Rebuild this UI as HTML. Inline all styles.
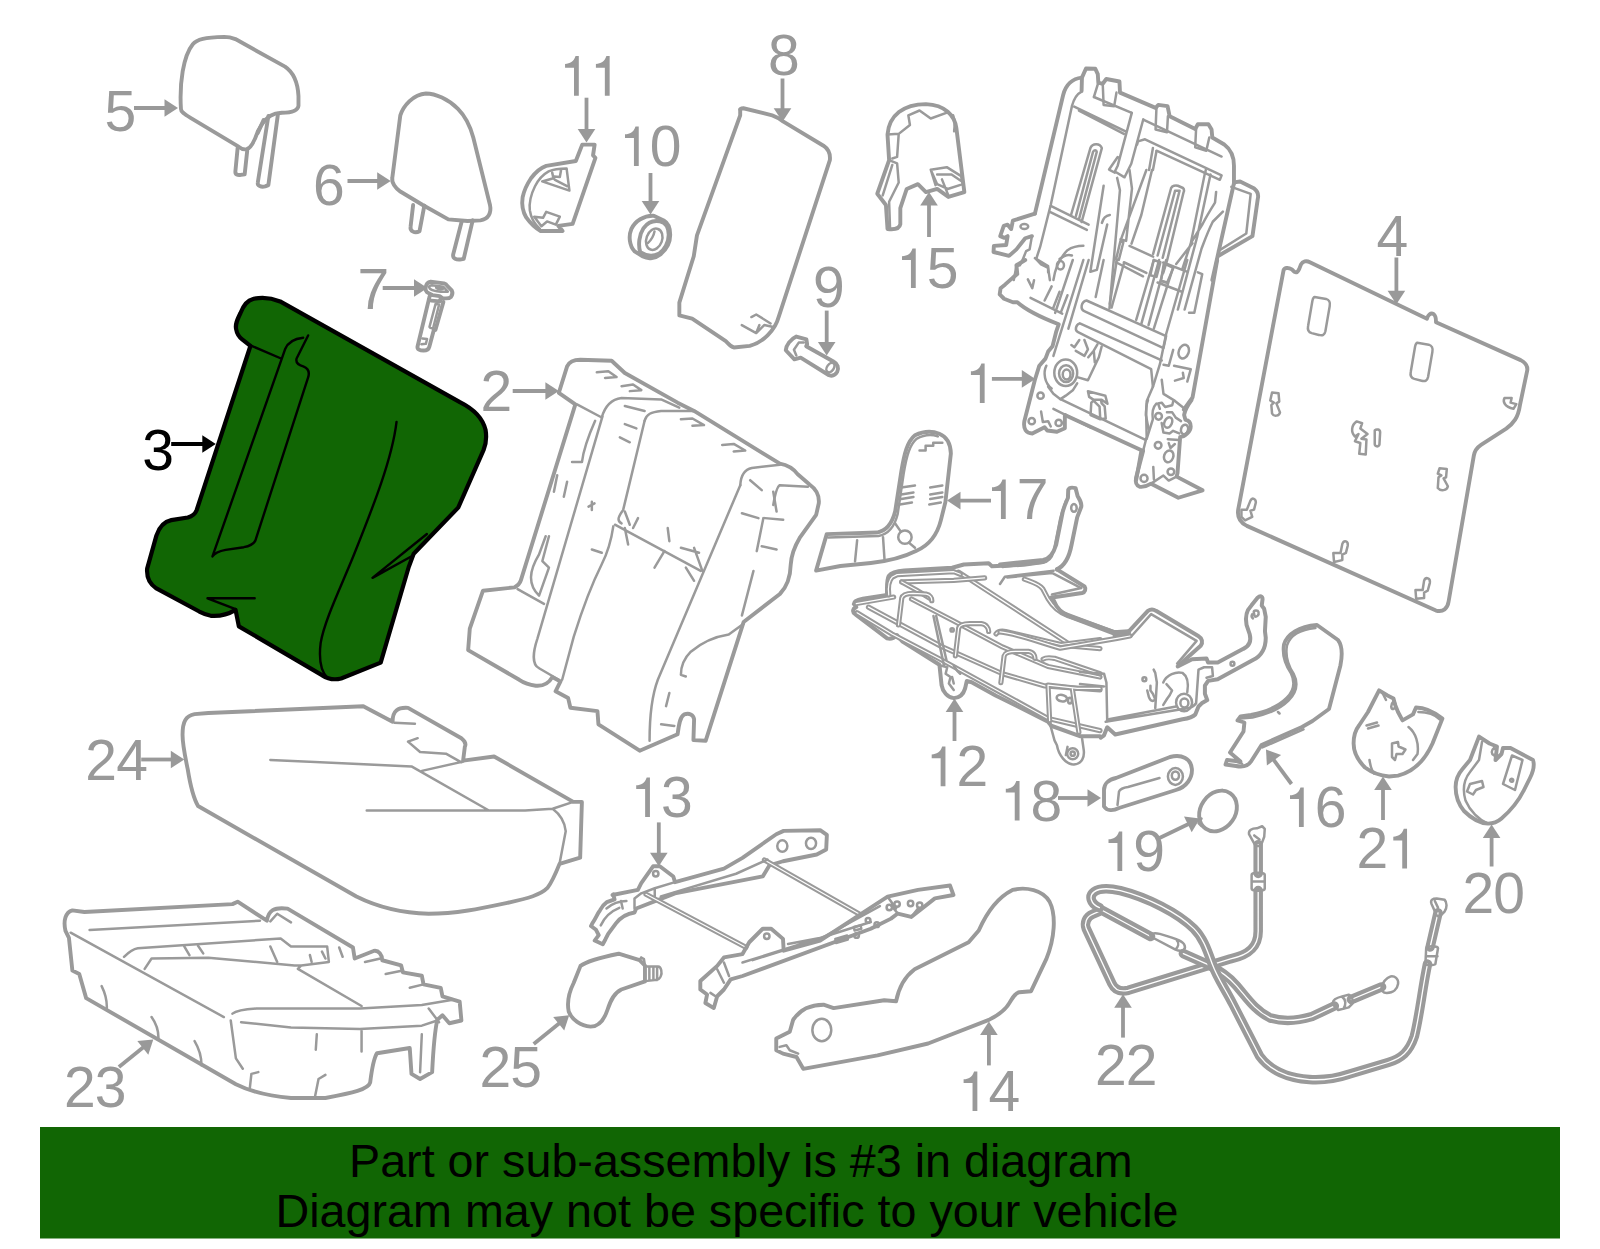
<!DOCTYPE html>
<html><head><meta charset="utf-8"><style>
html,body{margin:0;padding:0;background:#fff;width:1600px;height:1249px;overflow:hidden}
svg{display:block}
.g path,.g polyline,.g line,.g ellipse,.g circle,.g rect,.g polygon{fill:none;stroke:#9a9a9a;stroke-width:3.9;stroke-linejoin:round;stroke-linecap:round;vector-effect:non-scaling-stroke}
.g .t{stroke-width:2.5}
.g .f{fill:#fff}
.g .tb{stroke-width:5.2}
.g .tw{stroke:#fff;stroke-width:1.2}
.g .k{stroke-width:4}
.g .cb{stroke-width:9.5}
.g .cw{stroke:#fff;stroke-width:1.3}
.lb{font-family:"Liberation Sans",sans-serif;font-size:57px;fill:#999}
.ar{fill:#999;stroke:none}
.al{stroke:#999;stroke-width:3.4;fill:none}
.bk path{fill:none;stroke:#000;stroke-width:4.2;stroke-linejoin:round;stroke-linecap:round;vector-effect:non-scaling-stroke}
.bk .t{stroke-width:2.4}
.bk .fg{fill:#116604}
.bt{font-family:"Liberation Sans",sans-serif;font-size:46.7px;fill:#000}
</style></head><body>
<svg width="1600" height="1249" viewBox="0 0 1600 1249">
<rect x="40" y="1127" width="1520" height="111.5" fill="#116604"/>
<text class="bt" x="349" y="1177">Part or sub-assembly is #3 in diagram</text>
<text class="bt" x="275.5" y="1227">Diagram may not be specific to your vehicle</text>
<!-- 03_green.svg -->
<g class="bk" transform="translate(130 280) scale(0.329866)">
<path class="fg" d="M322,150 C318,135 325,120 335,100 C345,75 355,62 375,57 C400,52 430,55 455,65 L1000,370 C1040,390 1070,420 1078,455 C1082,480 1078,500 1072,515 L995,690 L860,830 L845,870 L760,1160 L640,1208 C620,1213 600,1210 582,1198 L330,1050 L320,1000 C300,1012 270,1020 245,1018 C230,1015 220,1010 210,1005 L80,935 C60,922 50,900 52,875 L80,775 C90,745 105,732 125,728 L175,720 C190,716 198,708 202,698 L365,200 L340,180 C330,172 324,162 322,150 Z"/>
<path class="t" d="M365,198 L458,238"/>
<path class="t" d="M540,168 L505,238 C502,250 510,258 525,262 C540,268 545,280 540,295 L380,790 C375,800 365,806 345,810 L290,818 C270,822 255,830 250,838 L470,210 C478,190 495,178 525,175"/>
<path class="t" d="M808,430 C795,540 740,680 680,830 C640,930 590,1030 578,1100 C572,1150 578,1185 598,1205"/>
<path class="t" d="M900,770 L735,903 L858,835"/>
<path class="t" d="M235,965 L378,965 M235,965 L320,998"/>
</g>

<!-- 10_r1.svg -->
<g class="g" transform="scale(0.320256)">
<!-- headrest 5 -->
<path d="M565,340 C560,260 572,175 602,138 C615,122 640,117 700,115 C715,115 725,118 735,122 L890,208 C915,225 930,260 932,300 L932,330 C930,345 915,352 880,352 L860,355 C840,360 820,380 805,410 C795,440 785,462 770,466 C760,468 750,462 745,458 L595,368 C575,356 565,350 565,340 Z"/>
<path d="M742,462 L735,535 C734,545 742,548 752,546 L764,544 L772,470"/>
<path d="M838,362 L805,570 C803,580 815,585 828,582 L838,578 L868,355"/>
<path d="M823,375 L805,415"/>
<!-- headrest 6 -->
<path d="M1225,555 L1250,360 C1260,330 1290,295 1330,292 C1360,292 1400,310 1430,340 C1455,365 1470,400 1478,430 L1530,640 C1535,665 1525,685 1500,688 L1460,690 L1400,685 L1320,640 L1250,598 C1235,588 1222,570 1225,555 Z"/>
<path d="M1290,640 L1282,708 C1280,722 1295,730 1310,722 L1325,642"/>
<path d="M1442,690 L1415,795 C1413,808 1425,812 1440,810 L1448,808 L1476,688"/>
</g>

<!-- 11_r2.svg -->
<g class="g" transform="translate(500 0) scale(0.320256)">
<!-- 8 -->
<path d="M750,345 C748,340 752,338 760,338 L850,360 C865,365 875,372 885,380 L1010,455 C1025,465 1032,480 1030,500 L870,990 C860,1030 820,1070 780,1080 L730,1085 C720,1082 715,1075 705,1065 L600,995 L560,985 L560,945 L605,800 L615,735 L750,360 Z"/>
<path class="t" d="M755,1015 L800,1040 L825,1015 L850,1020 M785,990 L800,982 L845,1010 M800,1040 L810,1015"/>
<!-- 15 -->
<path d="M1210,715 L1205,640 L1178,605 L1215,500 L1210,420 C1215,360 1260,325 1330,325 C1390,328 1420,360 1425,400 L1450,600 L1400,615 L1365,590 L1330,600 L1305,575 L1270,590 L1250,650 L1250,700 C1248,712 1235,718 1210,715 Z"/>
<path class="t" d="M1215,500 L1240,510 L1245,570 L1215,630 L1218,715 M1195,610 L1225,515"/>
<path class="t" d="M1210,420 L1245,418 L1280,390 L1275,360 L1310,345 L1345,370 L1400,350 M1415,360 C1420,375 1420,395 1418,410 M1245,418 L1240,490 L1225,495"/>
<path class="t" d="M1345,530 L1395,522 L1440,550 L1445,575 L1398,590 L1365,575 Z M1365,545 L1410,545 L1440,565 M1380,560 L1400,610 M1345,530 L1360,578"/>
</g>

<!-- 12_part2.svg -->
<g class="g" transform="translate(450 340) scale(0.329866)">
<path d="M330,160 L355,80 C362,65 375,60 395,60 L490,63 L530,100 L690,190 L740,215 L1000,375 C1030,380 1045,395 1055,408 L1090,438 C1110,452 1120,472 1118,495 L1110,530 L1060,600 C1045,625 1035,650 1033,680 C1032,720 1020,750 1000,770 L890,855 L775,1215 L738,1213 L740,1150 C738,1135 725,1130 710,1135 C700,1140 695,1155 690,1195 L575,1245 L450,1165 L447,1125 L365,1115 L358,1085 L320,1065 L335,1035 L310,1022 C300,1040 285,1050 260,1048 C245,1046 225,1040 210,1030 L55,940 L60,875 L100,760 L195,750 C205,745 212,738 215,728 L380,195 Z"/>
<path class="t" d="M385,195 L460,235"/>
<path class="t" d="M460,235 C470,200 490,180 520,176 L640,180 L695,205"/>
<path class="t" d="M462,232 L265,905 C250,950 250,985 270,995 L330,1030"/>
<path class="t" d="M440,245 C420,290 405,330 400,370 L370,370 M290,595 L270,650 C240,700 235,740 270,775 L300,690 L280,670 L300,595 M205,755 L285,800"/>
<path class="t" d="M590,245 C595,225 610,218 640,215 L740,215"/>
<path class="t" d="M590,245 L525,515 C510,535 505,548 520,556 M495,565 C490,600 480,640 460,680 C430,740 400,820 375,900 L340,1030"/>
<path class="t" d="M500,560 L760,700"/>
<path class="t" d="M880,440 C882,405 895,392 915,388 L1000,378"/>
<path class="t" d="M880,440 L630,1030 C615,1070 605,1140 605,1215"/>
<path class="t" d="M1085,445 L1000,440 C990,445 985,470 980,500 M950,540 L930,640 M920,700 L885,835"/>
<path class="t" d="M890,860 L845,893 C800,900 760,920 730,945 C710,965 700,990 700,1015 L715,1020"/>
<path class="t" d="M445,98 L480,95 L505,112 L470,115 M520,140 L555,135 L580,152 L545,155 M700,240 L735,238 L770,258 L735,260 M825,318 L860,315 L895,335 L860,338"/>
<path class="t" d="M325,410 L315,460 M355,430 L345,475 M420,505 L438,495 M430,490 L430,515"/>
<path class="t" d="M530,200 L590,215 M530,255 L565,268 M515,295 L545,310 M910,425 L945,455 M885,525 L935,540 M955,540 L1010,545 M945,625 L990,635"/>
<path class="t" d="M530,520 L545,560 M570,540 L555,570 M530,570 L540,620 M660,570 L665,610 M700,630 L755,645 M740,630 L765,700 M620,690 L650,640 M715,690 L740,730 M430,635 L460,645"/>
<path class="t" d="M640,1165 L680,1170 M665,1070 L655,1110 M980,460 L990,520"/>
</g>

<!-- 13_part10.svg -->
<g class="g" transform="translate(615 200) scale(0.05606)">
<path d="M670,280 C520,280 360,370 290,520 C240,640 255,820 350,915 L500,1010 C600,1060 720,1040 810,970 C910,890 985,760 985,620 C985,500 950,410 870,365 L690,280"/>
<path d="M450,930 C410,800 430,620 510,500 C590,390 700,360 800,380 C900,400 958,500 958,620 C958,760 880,900 780,960 C680,1010 560,1000 460,935"/>
<ellipse class="t" cx="700" cy="700" rx="140" ry="195" transform="rotate(20 700 700)"/>
<path class="t" d="M585,770 C640,720 690,640 705,560"/>
</g>

<!-- 14_part11.svg -->
<g class="g" transform="translate(515 135) scale(0.08004)">
<path d="M840,120 L995,120 L975,255 L1005,285 L720,1110 L540,1135 L595,1200 L320,1200 C250,1160 190,1100 140,1030 C100,960 80,880 95,780 C110,700 160,600 200,540 C260,460 320,410 390,385 L760,325 Z"/>
<path class="t" d="M310,1170 C250,1120 200,1040 185,940 C175,840 200,740 250,640 C290,560 340,500 420,455 C490,425 560,420 645,420 L680,695 L340,580 L480,540 L500,560 L650,640 M480,540 L465,470 M575,440 L560,525 L490,520"/>
<path class="t" d="M240,1020 L350,1035 L390,960 L560,1020 L510,1120 L400,1080 L330,1140 Z"/>
</g>

<!-- 15_bolt7.svg -->
<g class="g" transform="translate(405 275) scale(0.064033)">
<path d="M320,200 C330,140 360,110 400,105 L610,130 C630,135 650,150 660,170 L730,240 C745,270 740,310 720,340 C700,360 670,365 640,365 L590,365 L540,330 L430,315 C400,300 370,290 345,270 C325,250 318,225 320,200 Z"/>
<path class="t" d="M375,190 C380,170 400,160 420,160 L600,185 L670,260 L560,262 C480,255 420,240 390,215 Z"/>
<ellipse class="t" cx="540" cy="205" rx="55" ry="18" transform="rotate(10 540 205)"/>
<path d="M385,330 L372,385 M560,355 L545,410 M410,400 L550,412"/>
<path d="M372,385 L195,1120 C190,1160 230,1180 290,1180 C340,1180 370,1160 380,1120 L450,860 M600,420 L475,860 L450,860"/>
<path class="t" d="M478,452 L382,812 C387,830 417,832 440,828 L533,460 Z"/>
<path class="t" d="M270,990 L345,1000 L325,1075 L255,1080"/>
</g>

<!-- 16_pin9.svg -->
<g class="g" transform="translate(780 320) scale(0.048044)">
<path d="M120,630 C130,520 220,400 340,345 L550,405 L565,505 L545,545 L1120,870 C1200,910 1230,1000 1190,1080 C1150,1150 1080,1170 1020,1150 L430,785 L300,820 Z"/>
<path class="t" d="M340,740 L290,620 L390,470 L495,470"/>
<ellipse class="t" cx="1050" cy="990" rx="70" ry="110" transform="rotate(35 1050 990)"/>
</g>

<!-- 20_frame1.svg -->
<g class="g" transform="translate(990 60) scale(0.17614)">
<path d="M255,872 L415,200 C430,140 470,105 520,100"/>
<path d="M520,175 L522,100 L545,48 L598,50 L612,80 L615,128 L640,135 L660,108 L735,122 L738,185 L940,272 L955,255 L1008,262 L1020,320 L1165,392 L1180,365 L1240,365 L1258,395 L1262,440 L1330,480 C1370,510 1385,550 1385,600 L1385,700"/>
<path class="t" d="M590,210 L615,128 M640,135 L645,255 L705,262 L718,185 M945,272 L940,395 L1005,410 L1010,320 M1170,392 L1165,495 L1228,515 L1245,440"/>
<path class="t" d="M520,180 C490,195 475,225 465,262 L345,822 L285,1060 L262,1130 L290,1160 L330,1180 L340,1250"/>
<path class="t" d="M590,210 L805,300 M478,265 L770,405 M505,287 L760,420"/>
<path class="t" d="M870,338 L1315,548"/>
<path class="t" d="M805,300 L725,600 L709,633 L764,666 L802,589 M870,338 L802,589 M725,551 L676,622 L709,640 M925,500 L903,624 M945,518 L925,624 M1222,640 L1225,624"/>
<path class="t" d="M840,462 L880,450 L1315,655 L1305,680 L945,515 M840,462 L835,480"/>
<path class="t" d="M460,880 L570,500 C582,470 625,472 635,500 L520,920 M488,885 L585,522 C590,508 605,510 606,522 L505,905"/>
<path class="t" d="M345,828 L560,935 M340,862 L550,965"/>
<path d="M255,872 L130,912 L120,960 L100,935 L78,942 L58,1000 L82,1010 L100,1000 L92,1050 L22,1055 L20,1090 L108,1112 L150,1075 L200,1012 L238,1000"/>
<ellipse class="t" cx="195" cy="945" rx="22" ry="14"/>
<path class="t" d="M238,1000 L225,1075 L205,1085 L185,1135 L170,1165 L150,1170 L135,1249"/>
<path class="t" d="M255,1125 L330,1170 L330,1205 M395,1130 C420,1110 440,1100 465,1110"/>
<ellipse class="t" cx="400" cy="1165" rx="20" ry="24"/>
<path class="t" d="M360,1249 C370,1180 400,1120 440,1080 C470,1060 500,1055 530,1055"/>
<path d="M1385,695 L1420,690 L1500,730 C1520,745 1525,770 1520,790 L1490,1000 L1300,1110"/>
<path class="t" d="M1370,720 L1480,760 L1455,985 L1295,1085"/>
<path d="M1385,700 L1262,1249"/>
</g>
<g class="g" transform="translate(990 260) scale(0.17614)">
<path d="M200,0 L150,30 L155,80 L130,100 L85,140 L60,160 L55,195 L80,220 L130,240 L155,240 C200,280 300,330 390,365 L375,410 L355,490 L330,520 L315,560 L280,600 L255,680 L195,915 C188,960 205,985 240,985 L310,950 L325,968 L380,975 L425,955 L425,880"/>
<path d="M425,880 L860,1080 L830,1249"/>
<path class="t" d="M230,215 L410,305 M215,110 L240,160 L250,115 M310,230 L350,150 M360,270 L395,180 M405,290 L440,200"/>
<path class="t" d="M470,0 L370,300 M530,0 L360,545 M560,0 L445,390 M645,0 L600,210"/>
<path class="t" d="M720,0 L680,250 M760,20 L690,270"/>
<path class="t" d="M548,230 L1000,432 L985,500 L535,290 C512,280 515,238 548,230 Z"/>
<path class="t" d="M510,360 L975,570 M510,360 C485,368 480,400 500,410 L915,620 L925,720"/>
<path class="t" d="M930,0 L830,340 M960,0 L860,360 M1000,0 L900,370 M1040,40 L930,390 M1120,0 L1000,420 L965,590 L925,720 L890,800 L885,880 L900,960"/>
<path class="t" d="M1180,70 L1205,80 L1160,300 L1130,300"/>
<path d="M1290,0 L1150,780 L1100,850"/>
<ellipse class="t" cx="1100" cy="520" rx="28" ry="40" transform="rotate(20 1100 520)"/>
<path class="t" d="M985,595 L1015,600 L1040,510 M1045,600 L1140,620 L1120,690 M1050,685 L1100,670 L1095,640"/>
<path class="t" d="M975,680 L985,760 L1050,800 L1100,840"/>
<path class="t" d="M495,665 L556,683 L618,552 L634,491 M558,552 L589,515 L610,479 M589,515 L595,581 M462,483 L479,495 L507,454 M487,516 L536,544 L556,507 L536,454"/>
<ellipse class="t" cx="430" cy="640" rx="65" ry="75"/>
<ellipse class="t" cx="432" cy="645" rx="40" ry="48"/>
<ellipse class="t" cx="435" cy="650" rx="22" ry="28"/>
<path class="t" d="M320,600 C300,640 310,700 350,730 M330,720 L360,760 L400,790 L430,770 L470,740 L495,700"/>
<circle class="t" cx="287" cy="770" r="18"/>
<circle class="t" cx="237" cy="915" r="18"/>
<circle class="t" cx="390" cy="925" r="18"/>
<path class="t" d="M290,860 L300,920 L330,915 L345,945 M360,845 L570,950 M400,790 L880,1020"/>
<path class="t" d="M556,745 L655,771 L667,816 L634,794 L589,794 L563,777 Z M589,798 L575,810 L571,880 L626,904 L657,900 L651,831 L634,814 M589,800 L622,833 L626,904 M630,796 L634,814 L651,831"/>
</g>
<g class="g" transform="translate(1100 400) scale(0.088071)">
<path d="M490,575 L410,880 C400,930 410,970 450,985 C490,990 540,975 580,950 L890,1110 L1165,1025 L870,870 L880,830 L910,420 C960,420 1030,360 1030,300 C1030,250 1010,230 970,225 L955,170 C970,90 1010,40 1040,0"/>
<path class="t" d="M545,0 C525,50 520,100 525,200 L530,420 L490,575"/>
<path class="t" d="M580,950 L720,858 L780,915 L870,870 M605,760 L612,900 M770,445 L900,455 M780,490 L800,545 L850,500"/>
<path class="t" d="M640,40 C600,80 590,150 600,220 L530,440 M680,100 L660,40 L700,30 L740,80 L820,60 L830,20 M760,140 L820,140 L860,200 L920,240 M700,260 L720,370 L790,380 L830,350 L900,380"/>
<circle class="t" cx="500" cy="890" r="40"/>
<circle class="t" cx="805" cy="815" r="38"/>
<ellipse class="t" cx="780" cy="640" rx="52" ry="68" transform="rotate(20 780 640)"/>
<circle class="t" cx="660" cy="515" r="38"/>
<circle class="t" cx="665" cy="185" r="38"/>
<ellipse class="t" cx="775" cy="255" rx="42" ry="62" transform="rotate(25 775 255)"/>
<ellipse class="t" cx="960" cy="335" rx="40" ry="55" transform="rotate(15 960 335)"/>
</g>
<g class="g" transform="translate(1080 170) scale(0.1125)">
<path class="t" d="M440,675 L650,770 M740,822 L955,905 M390,820 L590,915 M720,985 L780,1005 M320,820 L560,945 M690,1000 L900,1080"/>
<path class="t" d="M810,160 L650,745 M920,200 L775,800 L740,915 M845,185 L690,760 M885,185 L735,780 M810,160 C820,140 850,135 870,140 L915,160 C925,170 925,190 920,200 M845,185 L885,185"/>
<path class="t" d="M655,800 L715,820 L680,950 L625,935 Z M745,830 L830,870 L775,1000 L720,985 Z"/>
<path class="t" d="M1000,650 L855,835 M1270,370 L1180,460 C1130,560 1100,650 1080,700 L930,1240 M1210,195 L1200,290 C1150,370 1110,440 1090,480 L985,650 L910,880 M1110,30 L985,650 M1160,40 L1040,600 L960,900 L870,1240"/>
<path class="t" d="M330,70 L355,180 L262,1230 M440,0 L462,165 L410,630 L360,615 M590,0 L365,615 M640,0 L545,400 L458,655 M360,630 L385,645 L345,800 L320,795 Z"/>
<path class="t" d="M210,140 L92,905 L150,888 L242,485 M265,400 C230,405 205,430 195,470"/>
</g>

<!-- 21_part4.svg -->
<g class="g" transform="translate(1200 180) scale(0.360288)">
<path d="M232,250 C235,243 245,242 255,248 L262,255 C268,258 272,255 275,248 L280,235 C285,225 295,223 305,228 L630,385 C632,375 640,368 648,372 C656,378 655,390 655,395 L890,500 C905,508 910,520 908,530 L888,625 C883,660 870,675 850,690 L780,735 C768,743 762,752 760,765 L690,1170 C687,1190 675,1200 655,1195 L130,960 C110,950 103,935 106,915 Z"/>
<path class="t" d="M318,325 L350,330 C358,332 362,340 360,350 L348,420 C346,430 340,433 330,430 L310,425 C300,422 298,415 300,405 L312,335 C314,327 316,325 318,325 Z"/>
<path class="t" d="M603,452 L635,457 C643,459 647,467 645,477 L633,547 C631,557 625,560 615,557 L595,552 C585,549 583,542 585,532 L597,462 C599,454 601,452 603,452 Z"/>
<path class="t" d="M200,590 L218,592 L220,615 L212,620 L222,645 C220,655 205,658 200,648 L198,625 L205,618 L195,612 Z"/>
<path class="t" d="M435,670 C420,680 418,700 430,712 L440,705 L430,725 L445,730 L442,760 L460,762 L462,720 L448,718 L465,705 L445,690 L450,675 Z"/>
<path class="t" d="M485,695 C490,690 500,692 500,700 L498,735 C495,742 485,740 485,733 Z"/>
<path class="t" d="M665,800 L685,802 L683,825 L676,828 L688,850 C686,862 668,865 660,855 L662,825 L670,820 L660,815 Z"/>
<path class="t" d="M845,605 C840,615 845,630 870,635 L878,622 L862,618 L865,605 Z"/>
<path class="t" d="M115,915 L130,915 L140,890 C145,880 155,885 155,895 L150,915 L140,918 L145,935 L125,945 L115,935 Z"/>
<path class="t" d="M370,1035 L390,1035 L395,1010 C400,998 412,1002 410,1015 L405,1035 L395,1040 L395,1055 L372,1060 Z"/>
<path class="t" d="M598,1138 L618,1138 L622,1112 C627,1100 640,1105 638,1118 L632,1140 L622,1145 L622,1160 L600,1162 Z"/>
</g>

<!-- 22_right.svg -->
<g class="g" transform="translate(1080 580) scale(0.3)">
<!-- 16 -->
<path d="M485,615 L490,600 L535,605 L500,575 L545,505 L548,475 L525,468 L535,455 L570,450 C620,440 660,425 690,395 C715,370 720,340 705,310 C685,280 675,250 680,215 C690,180 730,155 790,150 L860,200 C875,220 875,250 868,285 L830,430 L775,470 L740,490 L605,550 L570,605 C560,620 545,625 520,620 Z"/>
<path class="t" d="M535,462 L575,458 C625,448 665,432 695,402 C722,375 728,343 712,312 C692,282 684,252 690,218 C700,185 735,165 785,160"/>
<path class="t" d="M608,558 L745,498 M520,605 L540,612 M660,440 L665,445"/>
<!-- 21 -->
<path d="M997,368 L1025,385 L1045,395 L1050,415 L1060,440 L1075,468 L1110,448 L1120,425 C1150,425 1180,440 1208,462 L1175,545 C1150,600 1110,640 1060,652 L1030,655 C1000,652 970,640 950,625 C925,600 912,575 912,545 C912,520 918,500 930,485 L960,440 Z"/>
<path class="t" d="M1010,380 L1020,400 M1045,405 C1055,410 1055,425 1045,430 C1035,430 1035,415 1045,405 M1095,490 C1120,510 1130,545 1125,580 L1110,600 M1128,440 C1160,440 1185,450 1200,465 M965,600 C968,620 972,635 980,645 M955,485 L990,475 M960,495 L995,485"/>
<path class="t" d="M1040,545 L1060,540 L1062,555 L1085,565 L1075,580 L1055,580 L1050,600 L1040,590 Z"/>
<!-- 20 -->
<path d="M1330,522 L1365,545 L1390,555 L1385,600 L1405,580 L1410,560 L1435,560 L1510,600 C1515,615 1510,640 1500,660 L1480,700 C1465,730 1440,765 1405,795 C1390,808 1375,812 1360,812 C1330,810 1300,790 1280,770 C1262,748 1252,720 1252,690 C1252,665 1262,645 1275,630 L1300,600 Z"/>
<path class="t" d="M1340,540 L1330,600 L1300,640 C1280,665 1275,700 1285,735 C1300,770 1330,800 1360,812 M1380,560 C1390,565 1392,580 1380,585 C1370,580 1370,568 1380,560 M1440,585 L1475,600 L1450,700 L1410,680 Z M1435,665 C1440,660 1448,665 1442,672 C1436,674 1432,668 1435,665"/>
<path class="t" d="M1300,680 L1340,670 L1345,690 L1320,700 L1310,715 L1290,705 Z"/>
<!-- 18 -->
<path d="M80,700 C80,680 95,665 120,660 L300,590 C340,580 370,595 373,630 C375,660 355,690 320,700 L130,760 C110,770 90,770 80,755 Z"/>
<path class="t" d="M125,750 L130,705 C135,695 145,692 160,690 L265,660"/>
<ellipse class="t" cx="318" cy="655" rx="25" ry="28"/>
<ellipse class="t" cx="318" cy="652" rx="12" ry="14"/>
<!-- 19 -->
<ellipse cx="460" cy="770" rx="58" ry="72" transform="rotate(35 460 770)"/>
<path class="t" d="M455,705 L475,700 L490,705 M405,795 L395,810 L405,820"/>
<!-- 22 cable part (top) -->
</g>

<!-- 23_part12_17.svg -->
<g class="g" transform="translate(810 420) scale(0.304245)">
<!-- 17 -->
<path d="M55,375 L220,370 C250,365 270,340 280,300 L300,170 C310,110 320,70 345,50 C370,38 400,35 425,45 C450,55 462,75 463,110 L445,270 L430,330 C420,370 395,410 350,430 C300,455 250,465 200,470 L100,480 L20,495 Z"/>
<path class="t" d="M60,386 L225,381 C258,376 278,350 288,310 L308,175 C318,115 328,82 350,62 C372,50 400,47 420,54"/>
<path class="t" d="M360,100 L380,100 L380,85 L405,85 L405,75 L435,75 M300,222 L345,215 M300,245 L340,238 M295,278 L335,271 M300,260 L340,253 M395,222 L435,215 M395,245 L435,238 M392,278 L430,271 M395,260 L435,253"/>
<circle class="t" cx="312" cy="385" r="22"/>
<path class="t" d="M280,340 L298,366 M325,403 L345,420 M155,395 L148,465 M240,385 L245,460"/>
</g>

<!-- 24_part12.svg -->
<g class="g" transform="translate(840 560) scale(0.1625)">
<path class="k" d="M290,215 C288,170 288,120 300,98 C318,75 350,68 395,65 L690,48 L762,28 L915,20 L935,38 L1130,30 L1250,12"/>
<path class="k" d="M290,215 L140,238 C100,245 85,255 85,270 L100,290 L85,300 C78,312 80,325 95,335 L290,482 C310,488 335,478 350,462 L385,502 L612,645 L625,770 C632,810 660,845 700,850 C740,848 760,825 770,790 L780,745 L810,752 L960,835 L995,852 L1280,995 L1300,1020 L1480,1085 L1600,1085"/>
<path class="tb" d="M105,325 L320,455 L620,612 L1280,975 L1600,1050"/>
<path class="tw" d="M105,325 L320,455 L620,612 L1280,975 L1600,1050"/>
<path class="tb" d="M175,290 L620,530 L1000,700 L1260,775 L1600,800"/>
<path class="tw" d="M175,290 L620,530 L1000,700 L1260,775 L1600,800"/>
<path class="tb" d="M440,240 L700,375 L1000,535 L1280,655 L1600,720"/>
<path class="tw" d="M440,240 L700,375 L1000,535 L1280,655 L1600,720"/>
<path class="tb" d="M730,75 L1000,250 L1430,530 L1600,545"/>
<path class="tw" d="M730,75 L1000,250 L1430,530 L1600,545"/>
<path class="tb" d="M100,268 L330,228"/>
<path class="tw" d="M100,268 L330,228"/>
<path class="tb" d="M300,215 C295,170 300,125 322,105 L352,90 L700,72 L740,88"/>
<path class="tw" d="M300,215 C295,170 300,125 322,105 L352,90 L700,72 L740,88"/>
<path class="tb" d="M380,135 L700,125 L890,110"/>
<path class="tw" d="M380,135 L700,125 L890,110"/>
<path class="tb" d="M380,135 L470,185 L560,240"/>
<path class="tw" d="M380,135 L470,185 L560,240"/>
<path class="tb" d="M360,400 L380,235 C385,215 405,205 450,205 L530,210 C555,215 565,235 565,250"/>
<path class="tw" d="M360,400 L380,235 C385,215 405,205 450,205 L530,210 C555,215 565,235 565,250"/>
<path class="tb" d="M710,590 L730,420 C735,400 760,392 800,392 L870,392 C900,395 915,420 915,440"/>
<path class="tw" d="M710,590 L730,420 C735,400 760,392 800,392 L870,392 C900,395 915,420 915,440"/>
<path class="tb" d="M990,755 L1010,590 C1015,570 1040,562 1080,562 L1160,562 C1190,565 1200,590 1200,605"/>
<path class="tw" d="M990,755 L1010,590 C1015,570 1040,562 1080,562 L1160,562 C1190,565 1200,590 1200,605"/>
<path class="tb" d="M960,455 C970,440 990,435 1020,440 L1360,520 L1600,490"/>
<path class="tw" d="M960,455 C970,440 990,435 1020,440 L1360,520 L1600,490"/>
<path class="tb" d="M1250,610 C1265,600 1290,600 1320,605 L1600,700"/>
<path class="tw" d="M1250,610 C1265,600 1290,600 1320,605 L1600,700"/>
<path class="tb" d="M1290,990 L1280,770 L1460,790 L1600,790 M1430,795 L1470,1060"/>
<path class="tw" d="M1290,990 L1280,770 L1460,790 L1600,790 M1430,795 L1470,1060"/>
<path class="t" d="M575,345 L640,650 M592,345 L655,615 M620,650 L660,660 L650,700 L680,720 L670,760 L700,800 M700,650 L720,680 L740,700 M690,720 L700,760"/>
<ellipse class="t" cx="1365" cy="850" rx="32" ry="20" transform="rotate(10 1365 850)"/>
<ellipse class="t" cx="1415" cy="865" rx="12" ry="18"/>
<circle class="t" cx="690" cy="430" r="10"/>
<path class="t" d="M1290,1000 L1320,1110 L1335,1140 C1345,1200 1390,1260 1440,1258 C1490,1255 1505,1210 1500,1170 L1490,1100 M1400,1150 L1390,1200"/>
<circle class="t" cx="1432" cy="1192" r="34"/>
<circle class="t" cx="1432" cy="1192" r="13"/>
</g>
<g class="g" transform="translate(1000 480) scale(0.1625)">
<path class="k" d="M0,520 L265,492 C300,485 330,450 345,400 L385,200 C395,160 410,130 418,110 L420,60 C425,48 445,45 465,50 L478,100 C490,120 505,140 500,165 L475,230 L440,400 C425,480 395,530 350,550"/>
<path class="t" d="M15,535 L260,510 C300,505 320,480 330,440 L370,240 C380,200 395,160 405,130"/>
<ellipse class="t" cx="455" cy="172" rx="17" ry="24"/>
<path class="k" d="M350,550 L520,655 C530,670 525,690 505,695 L310,725"/>
<path class="t" d="M45,600 L320,572 L500,665 L320,705 M0,640 L30,595 L330,558"/>
<path class="tb" d="M150,610 C200,630 240,640 262,668 L295,730 C325,780 360,815 420,835 L700,940 L790,935"/>
<path class="tw" d="M150,610 C200,630 240,640 262,668 L295,730 C325,780 360,815 420,835 L700,940 L790,935"/>
<path class="k" d="M320,735 L330,740 C345,780 375,820 430,840 L700,935 L790,935 L910,805 C925,795 945,795 960,805 L1220,960 C1245,975 1250,1000 1235,1020 L1100,1140"/>
<path class="t" d="M810,960 L930,825 L1210,990 L1090,1130 M700,960 L800,952"/>
<path class="tb" d="M0,935 C100,945 200,985 370,1035 L720,975 L800,960"/>
<path class="tw" d="M0,935 C100,945 200,985 370,1035 L720,975 L800,960"/>
</g>
<g class="g" transform="translate(1080 580) scale(0.16013)">
<path class="k" d="M610,540 L700,495 L790,490 L800,515 L860,515 L1020,430 C1060,410 1070,380 1060,340 L1040,280 C1030,230 1040,190 1070,160 L1110,110 C1125,95 1140,100 1140,120 L1135,160 L1150,180 L1160,230 L1155,320 L1160,360 C1160,420 1140,470 1080,500 L860,620 L800,630 L780,660 L780,710 L795,750 L760,770 L740,790 L720,840 C700,860 670,865 640,870 L220,965 L170,920 L150,970 L130,985"/>
<path class="t" d="M160,885 L680,800 C700,795 715,785 725,770 L740,560 L775,545 L825,545 L830,600 L790,610 M180,870 L600,790"/>
<ellipse class="t" cx="650" cy="765" rx="50" ry="55"/>
<ellipse class="t" cx="652" cy="768" rx="25" ry="28"/>
<path class="t" d="M520,640 C540,590 600,570 640,580 C670,600 680,640 670,700 M540,650 L575,690 L560,720 L545,740 L520,780 M420,690 L430,730 C440,760 460,760 470,745 L455,710 L440,690 L440,660"/>
<circle class="t" cx="402" cy="620" r="12"/>
<circle class="t" cx="952" cy="523" r="12"/>
<path class="t" d="M1085,200 C1085,190 1110,185 1115,200 C1120,220 1100,235 1090,225 Z M1075,215 C1070,225 1072,235 1080,240"/>
<path class="t" d="M0,575 L150,585 L165,640 L170,880 M0,650 L150,665 M460,560 L470,580 L480,640 L470,800"/>
</g>

<!-- 30_bottomleft.svg -->
<g class="g" transform="translate(50 690) scale(0.344269)">
<!-- 24 -->
<path d="M385,130 C385,90 395,75 420,70 L460,67 L910,47 L995,92 C995,60 1010,50 1040,52 L1195,140 C1205,148 1210,155 1205,165 L1200,205 L1290,193 L1520,325 L1545,325 L1540,487 L1480,505 C1470,530 1460,555 1445,575 C1425,595 1390,605 1330,618 C1250,635 1180,650 1100,650 C1020,648 950,630 890,600 L430,337 C420,320 408,280 400,230 C392,190 385,160 385,130 Z"/>
<path class="t" d="M640,203 L1050,222 L1275,350 M920,350 L1380,350 L1460,345 L1520,325 M1460,345 C1480,360 1495,380 1498,410 L1480,505 M1080,235 L1200,208 M1000,95 L1060,98 M1040,150 L1075,180 L1150,185 L1195,210 M1040,150 L1068,140"/>
<!-- 23 -->
<path d="M45,700 C38,670 45,645 65,640 L100,645 L530,622 L545,615 L630,670 C635,640 650,630 690,635 L880,748 L885,780 L940,758 C955,755 965,770 965,785 L1020,800 L1025,820 L1080,830 L1085,855 L1135,865 L1140,890 L1190,905 L1195,960 L1160,968 L1140,945 L1125,958 C1120,980 1115,1010 1110,1110 L1075,1130 L1050,1115 L1045,1040 L950,1055 C940,1070 935,1100 930,1140 C925,1160 880,1170 800,1185 L700,1185 C640,1180 590,1170 540,1145 L105,895 L85,825 L65,815 L55,720 Z"/>
<path class="t" d="M115,697 L610,670 M60,705 L505,950 M215,775 C230,760 240,752 255,750 L670,722 L700,745 L790,745 L805,745 L810,790 L730,800 L720,810 L905,918 M275,810 L295,780 L460,778 L710,800 L730,800 M640,672 L660,650 L700,675"/>
<path class="t" d="M530,940 C540,932 555,928 600,925 L900,925 L1080,915 L1170,900 M555,965 L700,980 L900,985 L1080,975 L1125,960 M525,960 L540,1070 L560,1100 M580,1160 L585,1115 L605,1110 M770,1180 L780,1130 L800,1118 M775,1000 L772,1045 M905,990 L905,1050 M1080,1000 L1075,1110 M150,860 C160,880 166,900 165,925 M295,950 C308,968 315,990 315,1010 M420,1020 C432,1040 440,1065 440,1090 M915,790 L960,780 M975,825 L1025,815 M1045,865 L1085,855 M1100,925 L1130,965 M640,745 L660,790 M840,748 L850,775 M390,745 L405,770 M430,743 L445,765 M755,770 L760,790 M790,760 L800,780"/>
</g>
<g class="g" transform="translate(540 760) scale(0.3375)">
<!-- 13 back rail -->
<path d="M215,400 L290,385 L300,365 L335,315 L355,315 L395,345 L400,362 L545,322 L600,290 L700,220 L722,210 L830,208 L850,222 L848,265 L820,280 L720,300 L680,312 L660,345 L400,395 L285,440 L280,452 C260,455 240,465 225,484 L202,515 L194,531 L186,546 L162,535 L174,519 L166,503 L151,492 L155,484 C165,470 170,455 178,445 C185,432 195,423 198,421 L221,413 L217,398 Z"/>
<path class="t" d="M340,380 L400,362 M300,395 L340,380 L340,420 M280,440 L280,410 L300,395 M197,440 C215,425 240,418 256,418 M180,490 C190,468 210,448 235,438 M240,418 L245,440"/>
<ellipse class="t" cx="718" cy="255" rx="15" ry="17"/>
<ellipse class="t" cx="803" cy="247" rx="15" ry="17"/>
<circle class="t" cx="343" cy="337" r="8"/>
<!-- rods -->
<path class="tb" d="M314,398 L610,555 M665,296 L946,456"/>
<path class="tw" d="M314,398 L610,555 M665,296 L946,456"/>
<path class="t" d="M358,404 L581,337 L674,295 M630,593 L830,530 L1007,433"/>
<!-- 13 front rail -->
<path d="M475,655 L525,610 L545,585 L600,575 L620,540 L660,500 L685,500 L720,530 L722,565 L830,535 L1030,405 L1120,385 L1215,372 L1225,400 L1170,410 L1100,465 L1060,455 L1040,470 L980,500 L600,640 L565,650 L545,680 L525,700 L515,735 L490,720 L495,695 L475,680 Z"/>
<path class="t" d="M735,545 L825,528 M600,600 L980,480 M1030,405 L1055,440 M1100,465 L1120,440 M1060,455 L1040,430 M545,600 L560,640 M525,620 L545,660 M505,690 L520,700"/>
<circle class="t" cx="672" cy="522" r="8"/>
<circle class="t" cx="1035" cy="437" r="8"/>
<circle class="t" cx="1058" cy="427" r="8"/>
<circle class="t" cx="1098" cy="425" r="8"/>
<circle class="t" cx="1125" cy="430" r="8"/>
<circle class="t" cx="972" cy="475" r="7"/>
<circle class="t" cx="998" cy="488" r="7"/>
<circle class="t" cx="938" cy="520" r="7"/>
<path class="t" d="M875,530 L910,520 L912,532 L877,542 Z M930,495 L950,490 L952,500 L932,505 Z"/>
<!-- 14 -->
<path d="M700,825 L740,805 L750,770 C770,740 800,725 840,725 L870,735 L1020,712 L1055,715 C1060,690 1070,650 1110,620 L1270,540 L1300,505 C1320,460 1350,410 1400,385 C1440,375 1490,385 1510,420 C1530,460 1525,530 1500,590 L1455,685 L1420,688 C1405,692 1400,705 1392,718 C1380,740 1360,755 1330,770 L1150,840 L1000,875 L780,915 L760,880 L720,870 L700,860 Z"/>
<ellipse class="t" cx="835" cy="800" rx="28" ry="33"/>
<path class="t" d="M710,850 L730,845 L740,860 L765,870"/>
<!-- 25 -->
<path d="M85,745 C80,720 85,690 100,660 L120,610 C140,595 180,585 233,574 L295,593 L311,609 L311,656 L241,680 C220,690 210,710 200,740 C190,770 175,790 150,790 C120,788 95,770 85,745 Z"/>
<path class="t" d="M311,612 L350,612 C360,612 362,632 358,640 C355,650 350,652 340,652 L311,655 M324,612 L324,652 M336,612 L336,652 M347,612 L347,652 M295,593 L300,585 L308,590 L311,609"/>
</g>

<!-- 31_part22.svg -->
<g class="g" transform="translate(1060 800) scale(0.2625)">
<path class="cb" d="M755,170 L755,280 M755,345 L755,500 C755,560 720,590 650,605 L260,725 C230,732 210,725 198,700 L100,490 C92,470 100,445 125,435 L160,420 L345,520"/>
<path class="cw" d="M755,170 L755,280 M755,345 L755,500 C755,560 720,590 650,605 L260,725 C230,732 210,725 198,700 L100,490 C92,470 100,445 125,435 L160,420 L345,520"/>
<path class="cb" d="M470,585 L560,625 C600,645 640,670 670,705 C710,750 740,800 800,830 C850,845 910,840 960,825 L1045,785 M1110,760 L1225,712"/>
<path class="cw" d="M470,585 L560,625 C600,645 640,670 670,705 C710,750 740,800 800,830 C850,845 910,840 960,825 L1045,785 M1110,760 L1225,712"/>
<path class="cb" d="M150,410 C115,395 110,365 130,350 C150,335 185,335 230,345 C330,370 450,430 510,490 C545,525 560,570 580,625 C600,680 630,720 660,780 L760,975 C800,1030 870,1060 950,1065 C1000,1068 1050,1062 1100,1045 L1250,1000 C1300,985 1330,960 1350,900 C1370,820 1380,720 1400,625 M1410,560 L1440,430"/>
<path class="cw" d="M150,410 C115,395 110,365 130,350 C150,335 185,335 230,345 C330,370 450,430 510,490 C545,525 560,570 580,625 C600,680 630,720 660,780 L760,975 C800,1030 870,1060 950,1065 C1000,1068 1050,1062 1100,1045 L1250,1000 C1300,985 1330,960 1350,900 C1370,820 1380,720 1400,625 M1410,560 L1440,430"/>
<path class="t" d="M345,520 L440,570 C465,580 480,570 475,555 C470,540 455,532 380,510 C355,505 340,510 345,520 Z M440,570 C450,560 455,545 445,535"/>
<path class="t" d="M730,285 C730,275 780,275 780,285 L780,338 C780,348 730,348 730,338 Z M730,310 L780,310"/>
<path class="t" d="M745,175 L720,130 C718,115 730,108 750,108 L770,100 L780,110 L778,140 L765,175 Z M740,135 L760,150"/>
<path class="t" d="M1045,785 L1040,770 C1040,760 1060,752 1075,748 L1100,742 C1110,745 1118,760 1115,775 L1100,790 L1060,800 Z M1075,750 C1090,760 1090,780 1080,795"/>
<path class="t" d="M1225,712 C1230,695 1240,680 1260,672 C1275,670 1290,680 1288,700 C1285,720 1270,735 1245,735 C1230,735 1222,725 1225,712 Z"/>
<path class="t" d="M1395,565 C1395,555 1440,555 1440,565 L1430,625 C1428,630 1390,630 1392,625 Z M1393,595 L1438,595"/>
<path class="t" d="M1435,440 L1415,395 C1410,380 1420,375 1435,375 L1465,380 C1475,390 1475,410 1465,425 L1445,445 Z M1428,385 L1440,410"/>
</g>

<!-- 90_labels.svg -->
<text class="lb" x="104.60" y="131.20" fill="#999" style="fill:#999">5</text>
<text class="lb" x="312.90" y="204.80" fill="#999" style="fill:#999">6</text>
<text class="lb" x="357.40" y="309.00" fill="#999" style="fill:#999">7</text>
<text class="lb" x="142.20" y="469.50" fill="#000" style="fill:#000">3</text>
<path d="M13.74,0 L8.94,0 L8.94,-28 L0,-28 L0,-31.7 C5,-32.3 8.5,-33.5 10.5,-39.6 L13.74,-39.6 Z" transform="translate(565.06 95.70)" fill="#999"/>
<path d="M13.74,0 L8.94,0 L8.94,-28 L0,-28 L0,-31.7 C5,-32.3 8.5,-33.5 10.5,-39.6 L13.74,-39.6 Z" transform="translate(595.91 95.70)" fill="#999"/>
<path d="M13.74,0 L8.94,0 L8.94,-28 L0,-28 L0,-31.7 C5,-32.3 8.5,-33.5 10.5,-39.6 L13.74,-39.6 Z" transform="translate(625.00 166.00)" fill="#999"/>
<text class="lb" x="649.80" y="166.00" fill="#999" style="fill:#999">0</text>
<text class="lb" x="768.00" y="74.80" fill="#999" style="fill:#999">8</text>
<text class="lb" x="812.90" y="307.20" fill="#999" style="fill:#999">9</text>
<path d="M13.74,0 L8.94,0 L8.94,-28 L0,-28 L0,-31.7 C5,-32.3 8.5,-33.5 10.5,-39.6 L13.74,-39.6 Z" transform="translate(902.00 288.00)" fill="#999"/>
<text class="lb" x="926.80" y="288.00" fill="#999" style="fill:#999">5</text>
<text class="lb" x="480.40" y="411.00" fill="#999" style="fill:#999">2</text>
<text class="lb" x="1376.40" y="255.70" fill="#999" style="fill:#999">4</text>
<path d="M13.74,0 L8.94,0 L8.94,-28 L0,-28 L0,-31.7 C5,-32.3 8.5,-33.5 10.5,-39.6 L13.74,-39.6 Z" transform="translate(970.90 403.00)" fill="#999"/>
<path d="M13.74,0 L8.94,0 L8.94,-28 L0,-28 L0,-31.7 C5,-32.3 8.5,-33.5 10.5,-39.6 L13.74,-39.6 Z" transform="translate(1290.00 827.00)" fill="#999"/>
<text class="lb" x="1314.80" y="827.00" fill="#999" style="fill:#999">6</text>
<text class="lb" x="1356.40" y="868.40" fill="#999" style="fill:#999">2</text>
<path d="M13.74,0 L8.94,0 L8.94,-28 L0,-28 L0,-31.7 C5,-32.3 8.5,-33.5 10.5,-39.6 L13.74,-39.6 Z" transform="translate(1393.30 868.40)" fill="#999"/>
<text class="lb" x="1462.40" y="912.60" fill="#999" style="fill:#999">2</text>
<text class="lb" x="1493.25" y="912.60" fill="#999" style="fill:#999">0</text>
<path d="M13.74,0 L8.94,0 L8.94,-28 L0,-28 L0,-31.7 C5,-32.3 8.5,-33.5 10.5,-39.6 L13.74,-39.6 Z" transform="translate(1108.50 871.00)" fill="#999"/>
<text class="lb" x="1133.30" y="871.00" fill="#999" style="fill:#999">9</text>
<path d="M13.74,0 L8.94,0 L8.94,-28 L0,-28 L0,-31.7 C5,-32.3 8.5,-33.5 10.5,-39.6 L13.74,-39.6 Z" transform="translate(992.00 519.00)" fill="#999"/>
<text class="lb" x="1016.80" y="519.00" fill="#999" style="fill:#999">7</text>
<path d="M13.74,0 L8.94,0 L8.94,-28 L0,-28 L0,-31.7 C5,-32.3 8.5,-33.5 10.5,-39.6 L13.74,-39.6 Z" transform="translate(931.70 786.20)" fill="#999"/>
<text class="lb" x="956.50" y="786.20" fill="#999" style="fill:#999">2</text>
<path d="M13.74,0 L8.94,0 L8.94,-28 L0,-28 L0,-31.7 C5,-32.3 8.5,-33.5 10.5,-39.6 L13.74,-39.6 Z" transform="translate(1005.80 820.50)" fill="#999"/>
<text class="lb" x="1030.60" y="820.50" fill="#999" style="fill:#999">8</text>
<text class="lb" x="85.30" y="780.00" fill="#999" style="fill:#999">2</text>
<text class="lb" x="116.15" y="780.00" fill="#999" style="fill:#999">4</text>
<text class="lb" x="63.90" y="1107.00" fill="#999" style="fill:#999">2</text>
<text class="lb" x="94.75" y="1107.00" fill="#999" style="fill:#999">3</text>
<text class="lb" x="479.40" y="1087.00" fill="#999" style="fill:#999">2</text>
<text class="lb" x="510.25" y="1087.00" fill="#999" style="fill:#999">5</text>
<path d="M13.74,0 L8.94,0 L8.94,-28 L0,-28 L0,-31.7 C5,-32.3 8.5,-33.5 10.5,-39.6 L13.74,-39.6 Z" transform="translate(636.20 817.00)" fill="#999"/>
<text class="lb" x="661.00" y="817.00" fill="#999" style="fill:#999">3</text>
<path d="M13.74,0 L8.94,0 L8.94,-28 L0,-28 L0,-31.7 C5,-32.3 8.5,-33.5 10.5,-39.6 L13.74,-39.6 Z" transform="translate(963.60 1111.00)" fill="#999"/>
<text class="lb" x="988.40" y="1111.00" fill="#999" style="fill:#999">4</text>
<text class="lb" x="1094.90" y="1084.50" fill="#999" style="fill:#999">2</text>
<text class="lb" x="1125.75" y="1084.50" fill="#999" style="fill:#999">2</text>
<line x1="134.0" y1="108.0" x2="166.5" y2="108.0" stroke="#999" stroke-width="3.8"/>
<polygon points="178.0,108.0 164.5,116.8 164.5,99.2" fill="#999"/>
<line x1="347.5" y1="181.0" x2="379.2" y2="181.0" stroke="#999" stroke-width="3.8"/>
<polygon points="390.7,181.0 377.2,189.8 377.2,172.2" fill="#999"/>
<line x1="382.7" y1="288.0" x2="416.0" y2="288.0" stroke="#999" stroke-width="3.8"/>
<polygon points="427.5,288.0 414.0,296.8 414.0,279.2" fill="#999"/>
<line x1="171.2" y1="444.0" x2="204.3" y2="444.0" stroke="#000" stroke-width="3.8"/>
<polygon points="215.8,444.0 202.3,452.8 202.3,435.2" fill="#000"/>
<line x1="586.5" y1="97.7" x2="586.5" y2="131.0" stroke="#999" stroke-width="3.8"/>
<polygon points="586.5,142.5 577.7,129.0 595.3,129.0" fill="#999"/>
<line x1="650.5" y1="173.0" x2="650.5" y2="203.1" stroke="#999" stroke-width="3.8"/>
<polygon points="650.5,214.6 641.7,201.1 659.3,201.1" fill="#999"/>
<line x1="782.5" y1="78.5" x2="782.5" y2="110.2" stroke="#999" stroke-width="3.8"/>
<polygon points="782.5,121.7 773.7,108.2 791.3,108.2" fill="#999"/>
<line x1="826.7" y1="310.6" x2="826.7" y2="344.0" stroke="#999" stroke-width="3.8"/>
<polygon points="826.7,355.5 817.9,342.0 835.5,342.0" fill="#999"/>
<line x1="929.0" y1="237.0" x2="929.0" y2="203.5" stroke="#999" stroke-width="3.8"/>
<polygon points="929.0,192.0 937.8,205.5 920.2,205.5" fill="#999"/>
<line x1="512.7" y1="391.0" x2="547.4" y2="391.0" stroke="#999" stroke-width="3.8"/>
<polygon points="558.9,391.0 545.4,399.8 545.4,382.2" fill="#999"/>
<line x1="1396.4" y1="257.5" x2="1396.4" y2="292.8" stroke="#999" stroke-width="3.8"/>
<polygon points="1396.4,304.3 1387.6,290.8 1405.2,290.8" fill="#999"/>
<line x1="991.9" y1="378.9" x2="1023.8" y2="378.9" stroke="#999" stroke-width="3.8"/>
<polygon points="1035.3,378.9 1021.8,387.7 1021.8,370.1" fill="#999"/>
<line x1="1291.5" y1="784.0" x2="1272.8" y2="758.7" stroke="#999" stroke-width="3.8"/>
<polygon points="1266.0,749.5 1281.1,755.1 1266.9,765.6" fill="#999"/>
<line x1="1383.0" y1="820.0" x2="1383.0" y2="788.0" stroke="#999" stroke-width="3.8"/>
<polygon points="1383.0,776.5 1391.8,790.0 1374.2,790.0" fill="#999"/>
<line x1="1491.6" y1="866.5" x2="1491.6" y2="836.0" stroke="#999" stroke-width="3.8"/>
<polygon points="1491.6,824.5 1500.4,838.0 1482.8,838.0" fill="#999"/>
<line x1="1159.5" y1="838.0" x2="1189.6" y2="823.5" stroke="#999" stroke-width="3.8"/>
<polygon points="1200.0,818.5 1191.7,832.3 1184.0,816.4" fill="#999"/>
<line x1="991.0" y1="500.6" x2="958.5" y2="500.6" stroke="#999" stroke-width="3.8"/>
<polygon points="947.0,500.6 960.5,491.8 960.5,509.4" fill="#999"/>
<line x1="954.5" y1="741.0" x2="954.5" y2="709.9" stroke="#999" stroke-width="3.8"/>
<polygon points="954.5,698.4 963.3,711.9 945.7,711.9" fill="#999"/>
<line x1="1058.0" y1="798.0" x2="1089.5" y2="798.0" stroke="#999" stroke-width="3.8"/>
<polygon points="1101.0,798.0 1087.5,806.8 1087.5,789.2" fill="#999"/>
<line x1="141.2" y1="759.5" x2="172.8" y2="759.5" stroke="#999" stroke-width="3.8"/>
<polygon points="184.3,759.5 170.8,768.3 170.8,750.7" fill="#999"/>
<line x1="118.9" y1="1067.0" x2="144.3" y2="1046.6" stroke="#999" stroke-width="3.8"/>
<polygon points="153.3,1039.4 148.3,1054.7 137.3,1041.0" fill="#999"/>
<line x1="533.7" y1="1044.0" x2="560.3" y2="1022.5" stroke="#999" stroke-width="3.8"/>
<polygon points="569.2,1015.3 564.2,1030.6 553.2,1016.9" fill="#999"/>
<line x1="658.8" y1="822.4" x2="658.8" y2="854.8" stroke="#999" stroke-width="3.8"/>
<polygon points="658.8,866.3 650.0,852.8 667.6,852.8" fill="#999"/>
<line x1="988.9" y1="1065.4" x2="988.9" y2="1033.1" stroke="#999" stroke-width="3.8"/>
<polygon points="988.9,1021.6 997.7,1035.1 980.1,1035.1" fill="#999"/>
<line x1="1123.0" y1="1037.6" x2="1123.0" y2="1005.8" stroke="#999" stroke-width="3.8"/>
<polygon points="1123.0,994.2 1131.8,1007.8 1114.2,1007.8" fill="#999"/>

</svg>
</body></html>
